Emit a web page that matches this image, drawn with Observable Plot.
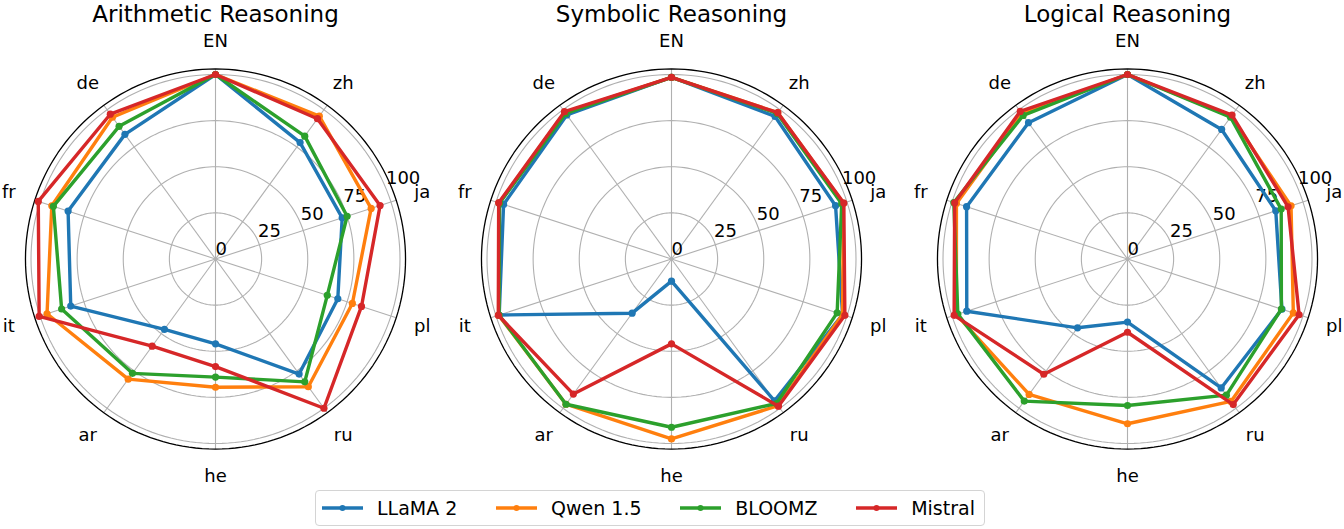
<!DOCTYPE html>
<html>
<head>
<meta charset="utf-8">
<script src="https://cdn.jsdelivr.net/npm/d3@7"></script>
<script src="https://cdn.jsdelivr.net/npm/@observablehq/plot@0.6"></script>
<style>
  html, body { margin: 0; padding: 0; background: #fff; }
  #root { position: relative; width: 1344px; height: 529px; overflow: hidden; font-family: "DejaVu Sans", sans-serif; }
  .panel { position: absolute; top: 0; }
  #legend { position: absolute; left: 315px; top: 490px; width: 670px; height: 36px; box-sizing: border-box;
            border: 1px solid #d4d4d4; border-radius: 4px; display: flex; align-items: center; padding-left: 6px;
            font: 19px "DejaVu Sans", sans-serif; color: #000; background: rgba(255,255,255,0.8); }
  .item { display: flex; align-items: center; margin-right: 38.7px; white-space: nowrap; }
  .item svg { margin-right: 14px; display: block; }
</style>
</head>
<body>
<div id="root"><div id="legend"></div></div>
<script>
// ---------- data ----------
const langs = ["EN", "zh", "ja", "pl", "ru", "he", "ar", "it", "fr", "de"];
const models = ["LLaMA 2", "Qwen 1.5", "BLOOMZ", "Mistral"];
const colors = ["#1f77b4", "#ff7f0e", "#2ca02c", "#d62728"];
const titles = ["Arithmetic Reasoning", "Symbolic Reasoning", "Logical Reasoning"];
const radialTicks = [0, 25, 50, 75, 100];

// rows: LLaMA 2, Qwen 1.5, BLOOMZ, Mistral ; columns follow langs
const arithmetic = [
  [100, 78.0, 72.2, 69.7, 77.1, 46.0, 47.1, 82.5, 84.0, 83.5],
  [100, 95.7, 88.7, 78.0, 85.6, 69.5, 80.5, 96.0, 93.3, 95.0],
  [100, 82.3, 75.0, 63.7, 82.3, 64.0, 76.6, 87.7, 92.4, 88.9],
  [100, 94.0, 93.8, 83.2, 100.0, 58.3, 58.4, 100.5, 101.0, 97.0]
];
const symbolic = [
  [98.5, 95.5, 93.5, 97.5, 95.0, 12.0, 36.3, 98.2, 95.7, 96.5],
  [98.5, 98.0, 98.0, 97.5, 98.3, 97.5, 97.3, 98.5, 98.3, 98.3],
  [98.5, 97.5, 97.0, 94.4, 96.8, 91.2, 97.3, 98.3, 98.0, 97.5],
  [98.5, 98.0, 98.2, 98.8, 98.6, 46.0, 90.5, 98.7, 98.5, 98.7]
];
const logical = [
  [100, 86.8, 84.5, 88.0, 86.4, 34.2, 46.1, 91.6, 91.7, 91.3],
  [100, 95.5, 93.2, 94.5, 95.4, 89.3, 90.7, 97.5, 97.5, 97.5],
  [100, 95.0, 87.6, 87.7, 91.2, 79.4, 95.2, 96.7, 99.0, 96.2],
  [100, 96.4, 91.5, 97.8, 97.5, 39.7, 77.2, 98.8, 98.5, 98.9]
];
const panels = [arithmetic, symbolic, logical];

// ---------- layout ----------
const rMax = 103;          // outer ring value
const k = 1.845;           // px per unit
const W = 456, H = 480, cy = 258.5;
const centers = [215, 670.7, 1127];
const labelR = 117.8;
const rLabelAngle = 67.5 * Math.PI / 180;
const ang = i => i * 2 * Math.PI / langs.length;

function radar(title, values) {
  const rows = [];
  values.forEach((vals, mi) => vals.forEach((v, li) =>
    rows.push({model: models[mi], lang: langs[li], value: v, a: ang(li)})));
  const px = d => d.value * Math.sin(d.a);
  const py = d => d.value * Math.cos(d.a);
  const ring = r => d3.range(0, 360, 2).map(t => ({r, t: t * Math.PI / 180}));
  const grid = radialTicks.filter(r => r > 0).flatMap(ring);
  const seriesMarks = models.flatMap(m => {
    const data = rows.filter(d => d.model === m);
    return [
      Plot.line(data, {x: px, y: py, stroke: "model", curve: "linear-closed", strokeWidth: 3.4, strokeLinejoin: "round"}),
      Plot.dot(data, {x: px, y: py, fill: "model", r: 3.6})
    ];
  });
  return Plot.plot({
    width: W, height: H, margin: 0,
    x: {domain: [-W / 2 / k, W / 2 / k], axis: null},
    y: {domain: [-(H - cy) / k, cy / k], axis: null},
    color: {domain: models, range: colors},
    style: {background: "transparent", fontFamily: "DejaVu Sans, sans-serif", color: "#000", overflow: "visible"},
    marks: [
      Plot.line(grid, {x: d => d.r * Math.sin(d.t), y: d => d.r * Math.cos(d.t), z: "r", curve: "linear-closed", stroke: "#b0b0b0", strokeWidth: 1.1}),
      Plot.link(langs, {x1: 0, y1: 0, x2: (d, i) => rMax * Math.sin(ang(i)), y2: (d, i) => rMax * Math.cos(ang(i)), stroke: "#b0b0b0", strokeWidth: 1.1}),
      Plot.line(ring(rMax), {x: d => d.r * Math.sin(d.t), y: d => d.r * Math.cos(d.t), curve: "linear-closed", stroke: "#000", strokeWidth: 1.3}),
      Plot.text(radialTicks, {x: d => d * Math.sin(rLabelAngle), y: d => d * Math.cos(rLabelAngle), text: d => String(d),
        textAnchor: "start", lineAnchor: "bottom", dy: -4, fontSize: 18, fill: "#000"}),
      Plot.text(langs, {x: (d, i) => labelR * Math.sin(ang(i)), y: (d, i) => labelR * Math.cos(ang(i)), text: d => d,
        textAnchor: "middle", lineAnchor: "middle", fontSize: 18, fill: "#000"}),
      ...seriesMarks,
      Plot.text([title], {frameAnchor: "top", text: d => d, lineAnchor: "bottom", dy: 21, fontSize: 23, fill: "#000"})
    ]
  });
}

const root = document.getElementById("root");
panels.forEach((vals, i) => {
  const svg = radar(titles[i], vals);
  svg.classList.add("panel");
  svg.style.left = (centers[i] - W / 2) + "px";
  root.appendChild(svg);
});

// legend
const legend = document.getElementById("legend");
models.forEach((m, i) => {
  const item = document.createElement("div");
  item.className = "item";
  if (i === models.length - 1) item.style.marginRight = "0";
  item.innerHTML = `<svg width="41" height="12"><line x1="0" y1="6" x2="41" y2="6" stroke="${colors[i]}" stroke-width="3.4"/><circle cx="20.5" cy="6" r="3" fill="${colors[i]}"/></svg><span>${m}</span>`;
  legend.appendChild(item);
});
</script>
</body>
</html>
